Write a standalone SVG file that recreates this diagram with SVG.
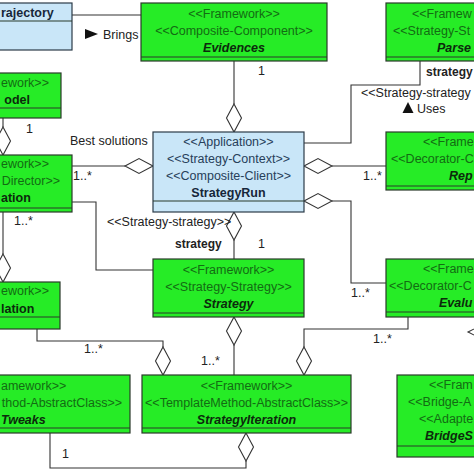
<svg xmlns="http://www.w3.org/2000/svg" width="474" height="474" viewBox="0 0 474 474">
<style>
text{font-family:"Liberation Sans",Arial,sans-serif;font-size:12.5px}
.g{fill:#26ec26;stroke:#2a3a2a;stroke-width:1.2}
.b{fill:#c9e6f8;stroke:#2c3b48;stroke-width:1.2}
.sep{stroke:#2a3a2a;stroke-width:1.2}
.st{fill:#136b13}
.nm{fill:#0c2a0c;font-weight:bold}
.it{font-style:italic}
.bst{fill:#27405a}
.bnm{fill:#16263a;font-weight:bold}
.c{text-anchor:middle}
.e{text-anchor:end}
.lbl{fill:#222}
.sm{font-size:12px;font-weight:bold}
.ln{fill:none;stroke:#333;stroke-width:1.1}
.dm{fill:#fff;stroke:#333;stroke-width:1.1}
</style>
<g id="connectors">
<path class="ln" d="M72,15 H141"/>
<path class="ln" d="M234,61 V104"/>
<path class="ln" d="M72,166 H125"/>
<path class="ln" d="M332,166 H386"/>
<path class="ln" d="M332,201 H351 V283 H386"/>
<path class="ln" d="M420,61 V85 H351 V143 H304"/>
<path class="ln" d="M234,240 V259"/>
<path class="ln" d="M234,345 V375"/>
<path class="ln" d="M72,202 H96 V270 H153"/>
<path class="ln" d="M3,118 V127"/>
<path class="ln" d="M3,212 V254"/>
<path class="ln" d="M37,329 V341 H163 V347"/>
<path class="ln" d="M408,317 V329 H304 V347"/>
<path class="ln" d="M50,433 V468 H246 V461"/>
<polygon class="dm" points="234,104 241.5,118 234,132 226.5,118"/>
<polygon class="dm" points="234,212 241.5,226 234,240 226.5,226"/>
<polygon class="dm" points="234,317 241.5,331 234,345 226.5,331"/>
<polygon class="dm" points="163,347 170.5,361 163,375 155.5,361"/>
<polygon class="dm" points="304,347 311.5,361 304,375 296.5,361"/>
<polygon class="dm" points="246,433 253.5,447 246,461 238.5,447"/>
<polygon class="dm" points="3,127 10.5,141 3,155 -4.5,141"/>
<polygon class="dm" points="3,254 10.5,268 3,282 -4.5,268"/>
<polygon class="dm" points="125,166 139,158.5 153,166 139,173.5"/>
<polygon class="dm" points="304,166 318,158.5 332,166 318,173.5"/>
<polygon class="dm" points="304,201 318,193.5 332,201 318,208.5"/>
<polygon class="dm" points="468,332 482,325 496,332 482,339"/>
<polygon points="85,29 98,34 85,39" fill="#111"/>
<text class="lbl" x="103" y="39">Brings</text>
<text class="lbl" x="258" y="75">1</text>
<text class="lbl sm" x="426" y="76">strategy</text>
<text class="lbl" x="361" y="97">&lt;&lt;Strategy-strategy</text>
<polygon points="408,102 413.5,113 402.5,113" fill="#111"/>
<text class="lbl" x="417" y="113">Uses</text>
<text class="lbl" x="70" y="145">Best solutions</text>
<text class="lbl" x="26" y="133">1</text>
<text class="lbl" x="73" y="180">1..*</text>
<text class="lbl" x="14" y="225">1..*</text>
<text class="lbl" x="363" y="180">1..*</text>
<text class="lbl" x="107" y="226">&lt;&lt;Strategy-strategy&gt;&gt;</text>
<text class="lbl sm" x="175" y="248">strategy</text>
<text class="lbl" x="258" y="248">1</text>
<text class="lbl" x="351" y="297">1..*</text>
<text class="lbl" x="373" y="343">1..*</text>
<text class="lbl" x="201" y="365">1..*</text>
<text class="lbl" x="84" y="353">1..*</text>
<text class="lbl" x="62" y="458">1</text>
</g>
<g id="trajectory">
<rect class="b" x="-10" y="3" width="82" height="47"/>
<line class="sep" x1="-10" y1="21" x2="72" y2="21"/>
<text class="bnm" x="1" y="17">rajectory</text>
</g>
<g id="evidences">
<rect class="g" x="141" y="3" width="186" height="58"/>
<line class="sep" x1="141" y1="57" x2="327" y2="57"/>
<text class="st c" x="234" y="18">&lt;&lt;Framework&gt;&gt;</text>
<text class="st c" x="234" y="35">&lt;&lt;Composite-Component&gt;&gt;</text>
<text class="nm it c" x="234" y="52">Evidences</text>
</g>
<g id="parser">
<rect class="g" x="386" y="3" width="120" height="58"/>
<line class="sep" x1="386" y1="57" x2="506" y2="57"/>
<text class="st" x="412" y="18">&lt;&lt;Framew</text>
<text class="st" x="393" y="35">&lt;&lt;Strategy-St</text>
<text class="nm it" x="437" y="52">Parse</text>
</g>
<g id="model">
<rect class="g" x="-40" y="73" width="101" height="45"/>
<line class="sep" x1="-40" y1="108" x2="61" y2="108"/>
<text class="st" x="1" y="87">ework&gt;&gt;</text>
<text class="nm e" x="30" y="104">odel</text>
</g>
<g id="director">
<rect class="g" x="-60" y="155" width="132" height="57"/>
<line class="sep" x1="-60" y1="208" x2="72" y2="208"/>
<text class="st" x="1" y="168">ework&gt;&gt;</text>
<text class="st e" x="60" y="185">Director&gt;&gt;</text>
<text class="nm" x="1" y="202">ation</text>
</g>
<g id="strategyrun">
<rect class="b" x="153" y="132" width="151" height="80"/>
<line class="sep" x1="153" y1="201" x2="304" y2="201" stroke="#2c3b48"/>
<text class="bst c" x="228.5" y="146">&lt;&lt;Application&gt;&gt;</text>
<text class="bst c" x="228.5" y="163">&lt;&lt;Strategy-Context&gt;&gt;</text>
<text class="bst c" x="228.5" y="180">&lt;&lt;Composite-Client&gt;&gt;</text>
<text class="bnm c" x="228.5" y="197">StrategyRun</text>
</g>
<g id="report">
<rect class="g" x="386" y="132" width="120" height="58"/>
<line class="sep" x1="386" y1="186" x2="506" y2="186"/>
<text class="st" x="423" y="146">&lt;&lt;Frame</text>
<text class="st" x="391" y="163">&lt;&lt;Decorator-C</text>
<text class="nm it" x="449" y="180">Rep</text>
</g>
<g id="strategy">
<rect class="g" x="153" y="259" width="151" height="58"/>
<line class="sep" x1="153" y1="313" x2="304" y2="313"/>
<text class="st c" x="228.5" y="274">&lt;&lt;Framework&gt;&gt;</text>
<text class="st c" x="228.5" y="291">&lt;&lt;Strategy-Strategy&gt;&gt;</text>
<text class="nm it c" x="228.5" y="308">Strategy</text>
</g>
<g id="evaluation">
<rect class="g" x="386" y="259" width="120" height="58"/>
<line class="sep" x1="386" y1="312" x2="506" y2="312"/>
<text class="st" x="423" y="273">&lt;&lt;Frame</text>
<text class="st" x="389" y="290">&lt;&lt;Decorator-C</text>
<text class="nm it" x="439" y="307">Evalu</text>
</g>
<g id="simulation">
<rect class="g" x="-40" y="282" width="100" height="47"/>
<line class="sep" x1="-40" y1="317" x2="60" y2="317"/>
<text class="st" x="1" y="295">ework&gt;&gt;</text>
<text class="nm" x="1" y="313">lation</text>
</g>
<g id="tweaks">
<rect class="g" x="-20" y="375" width="150" height="58"/>
<line class="sep" x1="-20" y1="428" x2="130" y2="428"/>
<text class="st" x="1" y="390">amework&gt;&gt;</text>
<text class="st e" x="122" y="407">thod-AbstractClass&gt;&gt;</text>
<text class="nm it" x="1" y="424">Tweaks</text>
</g>
<g id="strategyiteration">
<rect class="g" x="142" y="375" width="209" height="58"/>
<line class="sep" x1="142" y1="428" x2="351" y2="428"/>
<text class="st c" x="246.5" y="390">&lt;&lt;Framework&gt;&gt;</text>
<text class="st c" x="246.5" y="407">&lt;&lt;TemplateMethod-AbstractClass&gt;&gt;</text>
<text class="nm it c" x="246.5" y="424">StrategyIteration</text>
</g>
<g id="bridge">
<rect class="g" x="397" y="375" width="120" height="82"/>
<line class="sep" x1="397" y1="446" x2="517" y2="446"/>
<text class="st" x="429" y="389">&lt;&lt;Fram</text>
<text class="st" x="408" y="406">&lt;&lt;Bridge-A</text>
<text class="st" x="419" y="423">&lt;&lt;Adapte</text>
<text class="nm it" x="425" y="440">BridgeS</text>
</g>
</svg>
